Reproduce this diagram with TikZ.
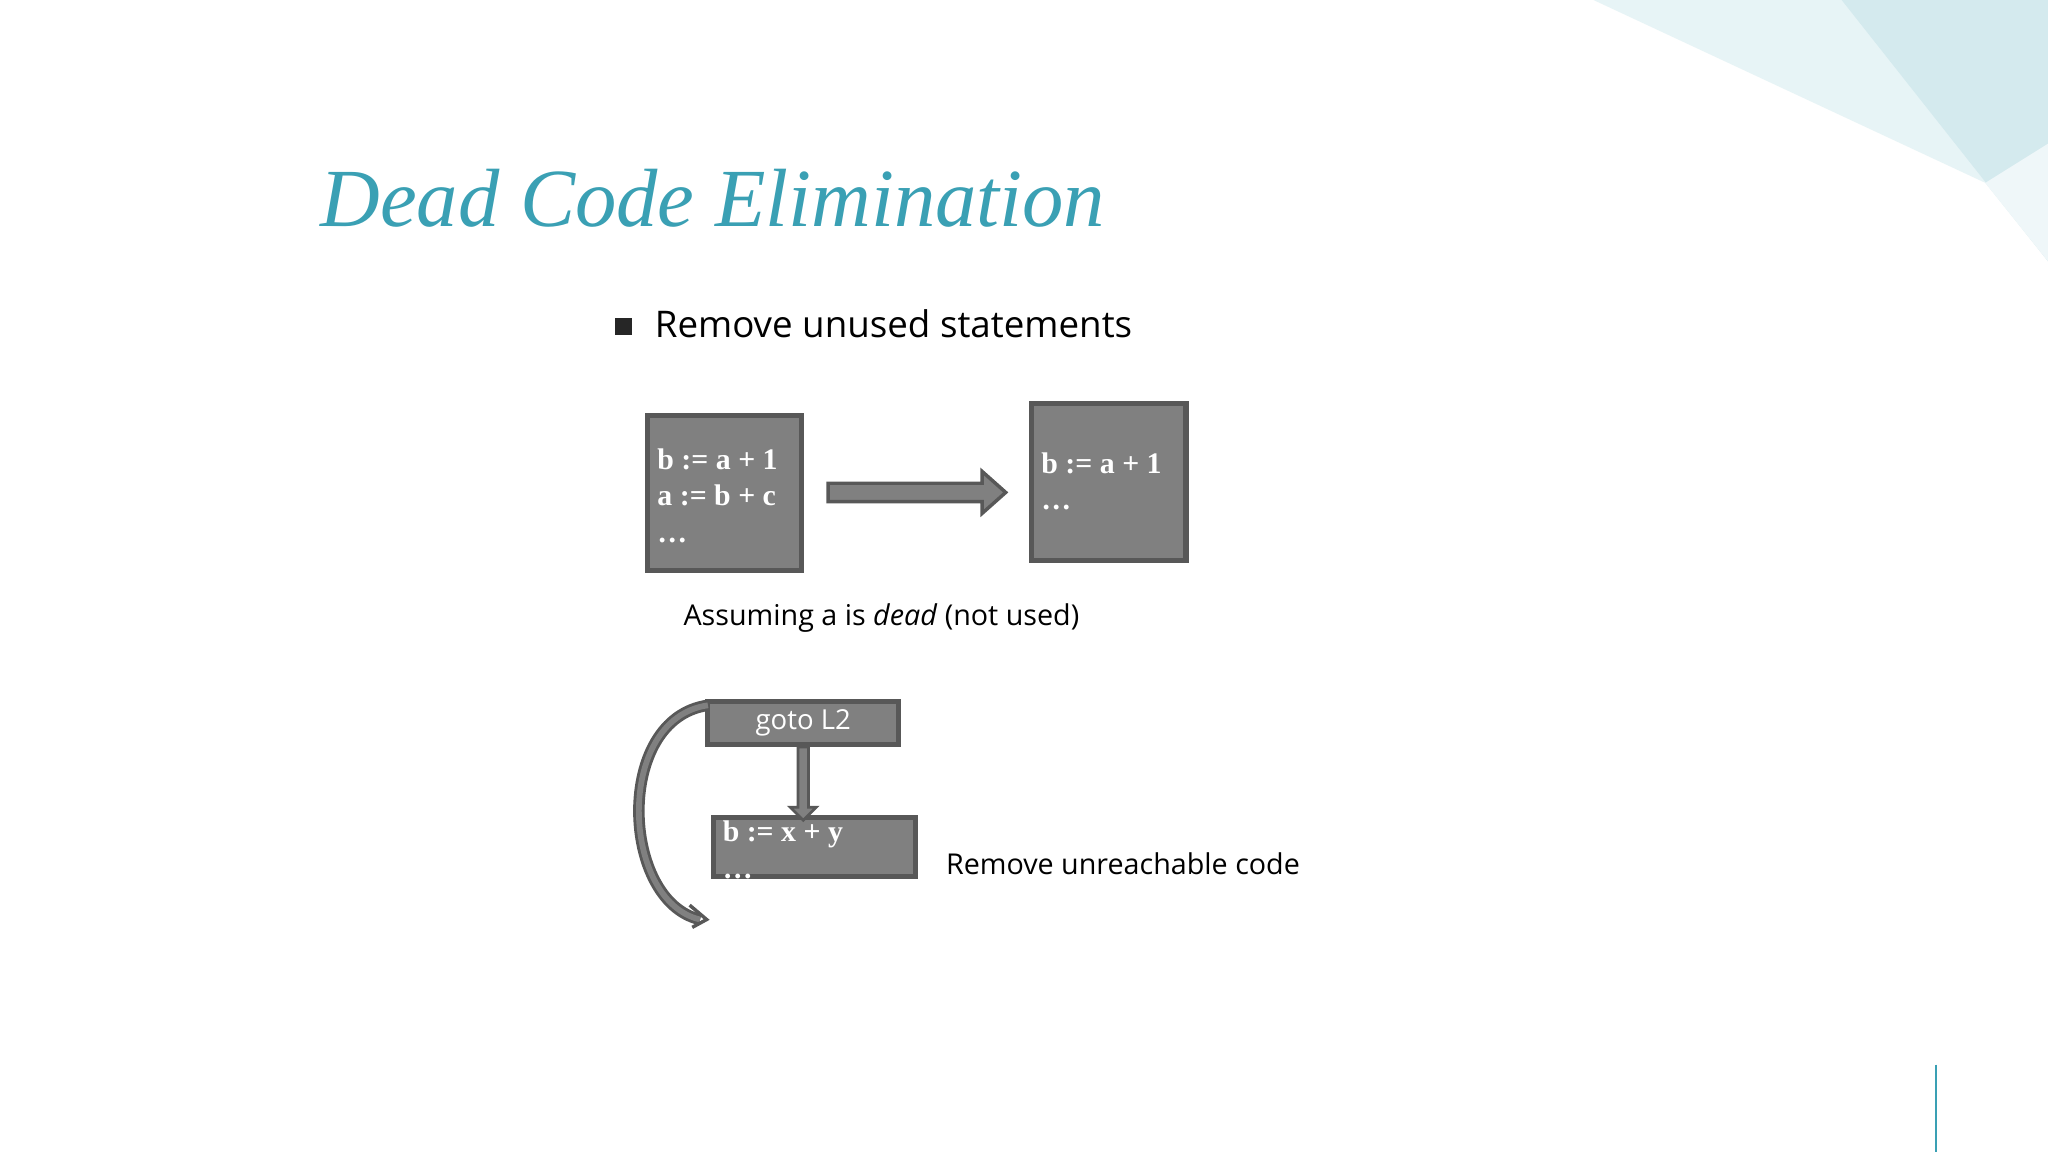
\documentclass[tikz,border=0pt]{standalone}
\usepackage{fontspec}
\setmainfont{Liberation Serif}
\newfontfamily\uifont{Open Sans}
\usetikzlibrary{arrows.meta}
\definecolor{teal1}{RGB}{58,160,180}
\definecolor{boxfill}{RGB}{128,128,128}
\definecolor{boxline}{RGB}{88,88,88}
\tikzset{
  codebox/.style={draw=boxline,line width=2.2pt,fill=boxfill,text=white,font=\bfseries\fontsize{13}{16}\selectfont,align=left,inner sep=0pt},
  lbl/.style={font=\uifont\fontsize{12.5}{15}\selectfont,anchor=west,inner sep=0pt}
}
\begin{document}
\begin{tikzpicture}[x=0.02cm,y=-0.02cm]
\useasboundingbox (0,0) rectangle (1568,882);
\fill[white] (0,0) rectangle (1568,882);
% decoration
\fill[teal1!12] (1220,0) -- (1568,0) -- (1568,200) -- (1520,140) -- cycle;
\fill[teal1!22] (1410,0) -- (1568,0) -- (1568,200) -- cycle;
\fill[teal1!8] (1520,140) -- (1568,200) -- (1568,110) -- cycle;
\draw[teal1,line width=0.8pt] (1482,815) -- (1482,882);
% title
\node[anchor=west,text=teal1,font=\itshape\fontsize{36}{40}\selectfont,inner sep=0pt] (title) at (245,152) {Dead Code Elimination};
\node[fill=black!85,minimum size=13*0.02cm,inner sep=0pt] (bul) at (477,250) {};
\node[anchor=west,inner sep=0pt,font=\uifont\fontsize{16}{19}\selectfont] (head) at (501,248) {Remove unused statements};
% boxes
\node[codebox,minimum width=118*0.02cm,minimum height=119*0.02cm] (b1) at (555,377.5) {};
\node[anchor=north west,text=white,font=\bfseries\fontsize{13}{16}\selectfont,align=left,inner sep=0pt] (t1) at (503,343) {b := a + 1\\a := b + c\\\dots};
\node[codebox,minimum width=118*0.02cm,minimum height=120*0.02cm] (b2) at (849,369) {};
\node[anchor=north west,text=white,font=\bfseries\fontsize{13}{16}\selectfont,align=left,inner sep=0pt] (t2) at (797,346) {b := a + 1\\\dots};
\coordinate (a1) at (634,377);
\draw[boxline,line width=1.5pt,fill=boxfill] (634,370) -- (752,370) -- (752,361) -- (770,377) -- (752,393) -- (752,384) -- (634,384) -- cycle;
\node[lbl] (cap1) at (523,473) {Assuming a is \textit{dead} (not used)};
% second part
\node[draw=boxline,line width=2.2pt,fill=boxfill,text=white,font=\uifont\fontsize{12}{14}\selectfont,minimum width=146*0.02cm,minimum height=33*0.02cm,inner sep=0pt] (g) at (615,553.5) {goto L2};
\node[codebox,minimum width=155*0.02cm,minimum height=45*0.02cm] (b3) at (623.5,648.5) {};
\node[anchor=north west,text=white,font=\bfseries\fontsize{13}{16}\selectfont,align=left,inner sep=0pt] (t3) at (553,628) {b := x + y\\\dots};
\draw[boxline,line width=1.2pt,fill=boxfill] (611,572) -- (619,572) -- (619,618) -- (625,618) -- (615,628) -- (605,618) -- (611,618) -- cycle;
\draw[boxline,line width=5pt] (542,540) .. controls (470,550) and (475,690) .. (536,704);
\draw[boxfill,line width=2.5pt] (542,540) .. controls (470,550) and (475,690) .. (536,704);
\draw[boxline,line width=1.5pt] (528,693) -- (541,704) -- (530,710);
\node[lbl] (cap2) at (724,661) {Remove unreachable code};
\end{tikzpicture}
\end{document}
